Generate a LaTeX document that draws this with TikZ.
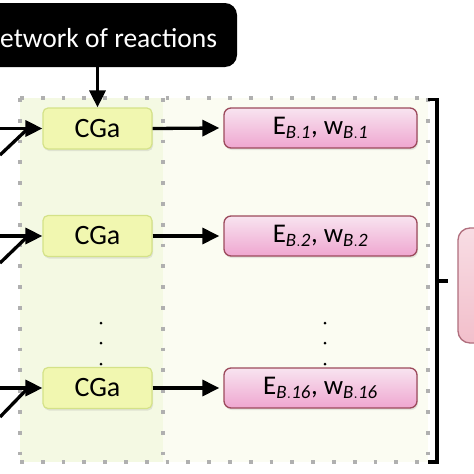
\documentclass[tikz,border=0pt]{standalone}
\usepackage{fontspec}
\setmainfont{Carlito}
\usetikzlibrary{arrows.meta,shadows}
\definecolor{cgafill}{HTML}{F1F7B0}
\definecolor{cgaedge}{HTML}{D4E288}
\definecolor{pinktop}{HTML}{F8E4F0}
\definecolor{pinkbot}{HTML}{EFA6D0}
\definecolor{pinkedge}{HTML}{9C4A5C}
\definecolor{bgleft}{HTML}{F4F9E3}
\definecolor{bgright}{HTML}{FBFCF2}
\definecolor{dotgray}{HTML}{B0B0B0}
\definecolor{rtop}{HTML}{F8DDE4}
\definecolor{rbot}{HTML}{F2BFCB}
\tikzset{
  cgabox/.style={draw=cgaedge, line width=1.2pt, fill=cgafill, rounded corners=5pt,
    minimum width=109pt, minimum height=41pt, inner sep=0pt,
    font=\fontsize{28}{30}\selectfont,
    drop shadow={opacity=0.18, shadow xshift=1pt, shadow yshift=-2pt}},
  ewbox/.style={draw=pinkedge, line width=1.3pt, top color=pinktop, bottom color=pinkbot,
    rounded corners=7pt, minimum width=193pt, minimum height=40pt, inner sep=0pt,
    font=\fontsize{27}{30}\selectfont,
    drop shadow={opacity=0.18, shadow xshift=1pt, shadow yshift=-2pt}},
  arr/.style={line width=3.3pt, -{Triangle[length=17pt,width=16pt]}},
  plain/.style={line width=3.3pt},
  dotline/.style={draw=dotgray, line width=3.8pt, dash pattern=on 3.8pt off 17pt},
  brack/.style={line width=3.3pt, black},
  ell/.style={circle, fill=black, inner sep=0pt, minimum size=3pt}
}
\begin{document}
\begin{tikzpicture}[x=1pt,y=-1pt]
\useasboundingbox (0,0) rectangle (474,474);
\fill[white] (0,0) rectangle (474,474);
% backgrounds
\fill[bgleft] (20,98) rectangle (163,462);
\fill[bgright] (163,98) rectangle (428,462);
% dotted frame
\draw[dotline] (20,98) -- (428,98);
\draw[dotline] (20,462) -- (428,462);
\draw[dotline] (20,98) -- (20,462);
\draw[dotline] (428,98) -- (428,462);
\draw[dotline] (163,98) -- (163,462);
% top black box
\node[fill=black, rounded corners=12pt, minimum width=277pt, minimum height=64pt, inner sep=0pt] (net) at (98.5,35) {};
\node[text=white, font=\fontsize{27.5}{30}\selectfont, anchor=west, inner sep=0pt] (nettext) at (0,38) {etwork of reactions};
% CGa boxes
\node[cgabox] (c1) at (97.5,128.5) {CGa};
\node[cgabox] (c2) at (97.5,236) {CGa};
\node[cgabox] (c3) at (97.5,388) {CGa};
% pink boxes
\node[ewbox] (e1) at (320.5,128) {E$_{\mathit{B.1}}$, w$_{\mathit{B.1}}$};
\node[ewbox] (e2) at (320.5,236) {E$_{\mathit{B.2}}$, w$_{\mathit{B.2}}$};
\node[ewbox] (e3) at (320.5,388) {E$_{\mathit{B.16}}$, w$_{\mathit{B.16}}$};
% right partial box
\node[draw=pinkedge!80, line width=1.3pt, top color=rtop, bottom color=rbot, rounded corners=12pt,
  minimum width=60pt, minimum height=115pt, inner sep=0pt] (r) at (488,285.5) {};
% arrows
\draw[arr] (net.south -| c1.north) -- (c1.north);
\draw[arr] (c1.east) -- ([xshift=-4pt]e1.west);
\draw[arr] (c2.east) -- ([xshift=-4pt]e2.west);
\draw[arr] (c3.east) -- ([xshift=-4pt]e3.west);
% incoming left arrows
\coordinate (h1) at (0,128.5);
\coordinate (d1) at (0,155);
\coordinate (j1) at (28,128.5);
\coordinate (h2) at (0,236);
\coordinate (d2) at (0,263);
\coordinate (j2) at (28,236);
\coordinate (h3) at (0,388);
\coordinate (d3) at (0,417);
\coordinate (j3) at (28,388);
\draw[arr] (h1) -- (c1.west);
\draw[plain] (d1) -- (j1);
\draw[arr] (h2) -- (c2.west);
\draw[plain] (d2) -- (j2);
\draw[arr] (h3) -- (c3.west);
\draw[plain] (d3) -- (j3);
% ellipsis dots
\node[ell] (a1) at (101,323) {};
\node[ell] (a2) at (101,343) {};
\node[ell] (a3) at (101,364) {};
\node[ell] (b1) at (325,323) {};
\node[ell] (b2) at (325,343) {};
\node[ell] (b3) at (325,364) {};
% bracket
\coordinate (bt0) at (428,99.5);
\coordinate (bt) at (437,99.5);
\coordinate (bb) at (437,462);
\coordinate (bb0) at (428,462);
\coordinate (bm) at (437,281);
\coordinate (bm1) at (448,281);
\draw[brack] (bt0) -- (bt) -- (bb) -- (bb0);
\draw[brack] (bm) -- (bm1);
\end{tikzpicture}
\end{document}
